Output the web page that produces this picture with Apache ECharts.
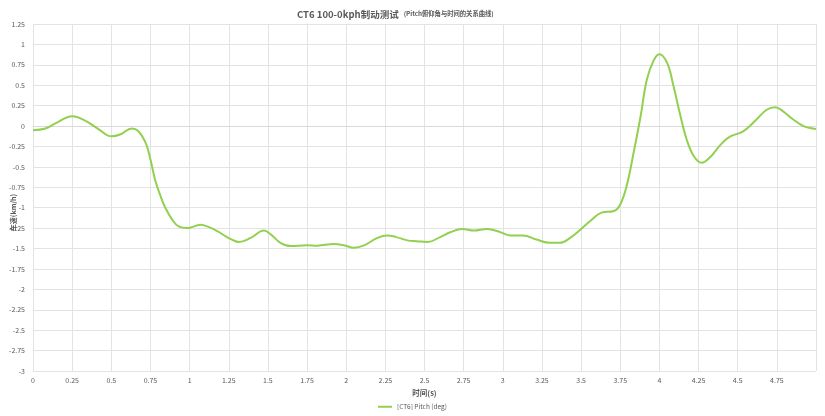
<!DOCTYPE html>
<html><head><meta charset="utf-8">
<script src="https://cdn.jsdelivr.net/npm/echarts@6/dist/echarts.min.js"></script>
<style>html,body{margin:0;padding:0;background:#fff}#c{width:825px;height:416px}</style>
</head><body><div id="c"></div>
<script>
const titleText = 'CT6 100-0kph制动测试';
const subtitleText = '(Pitch俯仰角与时间的关系曲线)';
const seriesName = '[CT6] Pitch (deg)';
const xAxisName = '时间(s)';
const yAxisName = '车速(km/h)';
const timeS = [0, 0.08, 0.15, 0.25, 0.33, 0.42, 0.5, 0.56, 0.63, 0.67, 0.72, 0.75, 0.78, 0.815, 0.845, 0.89, 0.93, 0.985, 1.02, 1.07, 1.12, 1.18, 1.23, 1.27, 1.315, 1.39, 1.475, 1.52, 1.58, 1.645, 1.75, 1.815, 1.92, 1.985, 2.05, 2.11, 2.2, 2.26, 2.32, 2.39, 2.45, 2.52, 2.6, 2.665, 2.74, 2.815, 2.9, 2.985, 3.05, 3.13, 3.215, 3.3, 3.365, 3.43, 3.495, 3.56, 3.63, 3.71, 3.75, 3.79, 3.835, 3.88, 3.92, 3.965, 4.0, 4.05, 4.09, 4.13, 4.175, 4.22, 4.27, 4.325, 4.39, 4.45, 4.535, 4.62, 4.685, 4.74, 4.79, 4.855, 4.92, 4.98, 5.0];
const pitchDeg = [-0.05, -0.03, 0.04, 0.12, 0.07, -0.04, -0.126, -0.1, -0.03, -0.057, -0.21, -0.41, -0.66, -0.86, -1.0, -1.15, -1.23, -1.25, -1.235, -1.21, -1.235, -1.29, -1.35, -1.39, -1.42, -1.37, -1.28, -1.33, -1.43, -1.47, -1.46, -1.465, -1.445, -1.46, -1.49, -1.465, -1.37, -1.34, -1.36, -1.40, -1.41, -1.42, -1.36, -1.30, -1.26, -1.28, -1.26, -1.30, -1.34, -1.34, -1.39, -1.43, -1.43, -1.37, -1.27, -1.16, -1.06, -1.04, -0.96, -0.74, -0.33, 0.12, 0.57, 0.81, 0.88, 0.77, 0.49, 0.16, -0.17, -0.37, -0.45, -0.38, -0.23, -0.13, -0.065, 0.08, 0.2, 0.23, 0.18, 0.08, 0.0, -0.03, -0.035];

const chart = echarts.init(document.getElementById('c'));
const lbl = {color:'#595959', fontSize:7, fontFamily:'Noto Sans CJK SC'};
chart.setOption({
  animation:false,
  backgroundColor:'#fff',
  title:{
    text:'{a|'+titleText+'} {b|'+subtitleText+'}',
    left:292, top:0,
    textStyle:{rich:{
      a:{fontSize:9.5,fontWeight:'bold',color:'#595959',fontFamily:'Noto Sans CJK SC'},
      b:{fontSize:6.3,color:'#595959',fontFamily:'Noto Sans CJK SC'}
    }}
  },
  legend:{
    bottom:1, left:'center', itemWidth:14, itemHeight:2, itemGap:4,
    icon:'rect',
    textStyle:{color:'#595959',fontSize:6.5,fontFamily:'Noto Sans CJK SC'},
    data:[seriesName]
  },
  grid:{left:33,right:9,top:24,bottom:45,containLabel:false,outerBoundsMode:'none'},
  xAxis:{
    type:'value', min:0, max:5, interval:0.25,
    name:xAxisName, nameLocation:'middle', nameGap:18, nameMoveOverlap:false,
    nameTextStyle:{color:'#595959',fontSize:7.5,fontWeight:'bold',fontFamily:'Noto Sans CJK SC'},
    axisLine:{show:true,lineStyle:{color:'#d9d9d9'}},
    axisTick:{show:false},
    axisLabel:Object.assign({margin:6,formatter:v=>v>=5?'':String(v)},lbl),
    splitLine:{show:true,lineStyle:{color:'#e3e3e3',width:1}}
  },
  yAxis:{
    type:'value', min:-3, max:1.25, interval:0.25,
    name:yAxisName, nameLocation:'middle', nameGap:16, nameRotate:90, nameMoveOverlap:false,
    nameTextStyle:{color:'#595959',fontSize:7,fontWeight:'bold',fontFamily:'Noto Sans CJK SC',padding:[0,30,0,0]},
    axisLine:{show:false},
    axisTick:{show:false},
    axisLabel:Object.assign({margin:8},lbl),
    splitLine:{show:true,lineStyle:{color:'#e3e3e3',width:1}}
  },
  series:[{
    name:seriesName, type:'line', smooth:0.4, showSymbol:false,
    data:timeS.map((t,i)=>[t,pitchDeg[i]]),
    lineStyle:{color:'#92d050',width:2},
    itemStyle:{color:'#92d050'}
  }]
});
</script></body></html>
